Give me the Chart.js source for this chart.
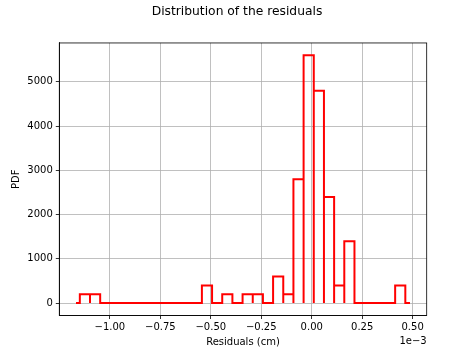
<!DOCTYPE html>
<html>
<head>
<meta charset="utf-8">
<script src="https://cdn.jsdelivr.net/npm/chart.js@4.4.1/dist/chart.umd.min.js"></script>
<style>
  html, body { margin: 0; padding: 0; background: #ffffff; }
  #wrap { width: 474px; height: 355px; }
</style>
</head>
<body>
<div id="wrap"><canvas id="c" width="474" height="355"></canvas></div>
<script>
// Histogram of residuals (x in units of 1e-3 cm)
const binStart = -1.149;          // left edge of the first bin (×1e-3 cm)
const binWidth = 0.0504;          // bin width (×1e-3 cm)
const pdfValues = [200, 200, 0, 0, 0, 0, 0, 0, 0, 0, 0, 0, 400, 0, 200, 0,
                   200, 200, 0, 600, 200, 2800, 5600, 4800, 2400, 400, 1400, 0, 0, 0, 0, 400];
const curveStart = -1.168;        // curve range (×1e-3 cm)
const curveEnd = 0.487;
const xTickValues = [-1.00, -0.75, -0.50, -0.25, 0.00, 0.25, 0.50];
const yTickValues = [0, 1000, 2000, 3000, 4000, 5000];
const titleText = 'Distribution of the residuals';
const xLabel = 'Residuals (cm)';
const yLabel = 'PDF';
const offsetText = '1e\u22123';

// build staircase outline from the bins
const points = [{x: curveStart, y: 0}];
pdfValues.forEach((h, i) => {
  const left = binStart + i * binWidth;
  const right = left + binWidth;
  points.push({x: left, y: 0}, {x: left, y: h}, {x: right, y: h}, {x: right, y: 0});
});
points.push({x: curveEnd, y: 0});

const xSpan = curveEnd - curveStart;
const xMin = curveStart - 0.05 * xSpan;
const xMax = curveEnd + 0.05 * xSpan;
const yMaxData = Math.max(...pdfValues);
const yMin = -0.05 * yMaxData;
const yMax = yMaxData * 1.05;

const FONT = "'DejaVu Sans', sans-serif";
const fmtX = v => (v < -1e-9 ? '\u2212' : '') + Math.abs(v).toFixed(2);

const framePlugin = {
  id: 'frame',
  afterDraw(chart) {
    const {ctx, chartArea: a} = chart;
    ctx.save();
    ctx.strokeStyle = '#000';
    ctx.lineWidth = 0.8;
    ctx.strokeRect(a.left, a.top, a.right - a.left, a.bottom - a.top);
    ctx.fillStyle = '#000';
    ctx.font = '10px ' + FONT;
    ctx.textAlign = 'right';
    ctx.textBaseline = 'middle';
    ctx.fillText(offsetText, a.right, 341);
    ctx.restore();
  }
};

new Chart(document.getElementById('c'), {
  type: 'line',
  data: {
    datasets: [{
      data: points,
      borderColor: '#ff0000',
      borderWidth: 2,
      pointRadius: 0,
      tension: 0,
      fill: false,
      borderJoinStyle: 'miter'
    }]
  },
  options: {
    responsive: false,
    animation: false,
    parsing: false,
    events: [],
    layout: { padding: 0 },
    plugins: {
      legend: { display: false },
      tooltip: { enabled: false },
      title: {
        display: true,
        text: titleText,
        color: '#000',
        font: { family: FONT, size: 12.3, weight: 'normal', lineHeight: 1.2 },
        padding: { top: 4.6, bottom: 23.6 }
      }
    },
    scales: {
      x: {
        type: 'linear',
        min: xMin,
        max: xMax,
        afterBuildTicks: s => { s.ticks = xTickValues.map(v => ({value: v})); },
        afterFit: s => { s.height = 39.5; },
        ticks: {
          color: '#000',
          font: { family: FONT, size: 10 },
          padding: 2,
          maxRotation: 0,
          autoSkip: false,
          callback: v => fmtX(v)
        },
        grid: { color: '#b0b0b0', lineWidth: 0.8, tickColor: '#000', tickLength: 3.5, drawTicks: true },
        border: { display: true, color: '#000', width: 0.8 },
        title: {
          display: true,
          text: xLabel,
          color: '#000',
          font: { family: FONT, size: 10, lineHeight: 1.2 },
          padding: { top: 0, bottom: 7 }
        }
      },
      y: {
        type: 'linear',
        min: yMin,
        max: yMax,
        afterBuildTicks: s => { s.ticks = yTickValues.map(v => ({value: v})); },
        afterFit: s => { s.width = 59.3; },
        ticks: {
          color: '#000',
          font: { family: FONT, size: 10 },
          padding: 3,
          autoSkip: false,
          callback: v => String(v)
        },
        grid: { color: '#b0b0b0', lineWidth: 0.8, tickColor: '#000', tickLength: 3.5, drawTicks: true },
        border: { display: true, color: '#000', width: 0.8 },
        title: {
          display: true,
          text: yLabel,
          color: '#000',
          font: { family: FONT, size: 10, lineHeight: 1.2 },
          padding: { top: 10, bottom: 0 }
        }
      },
      yRight: {
        type: 'linear',
        position: 'right',
        min: yMin,
        max: yMax,
        afterFit: s => { s.width = 47.3; },
        ticks: { display: false },
        grid: { display: false, drawTicks: false },
        border: { display: false },
        title: { display: false }
      }
    }
  },
  plugins: [framePlugin]
});
</script>
</body>
</html>
